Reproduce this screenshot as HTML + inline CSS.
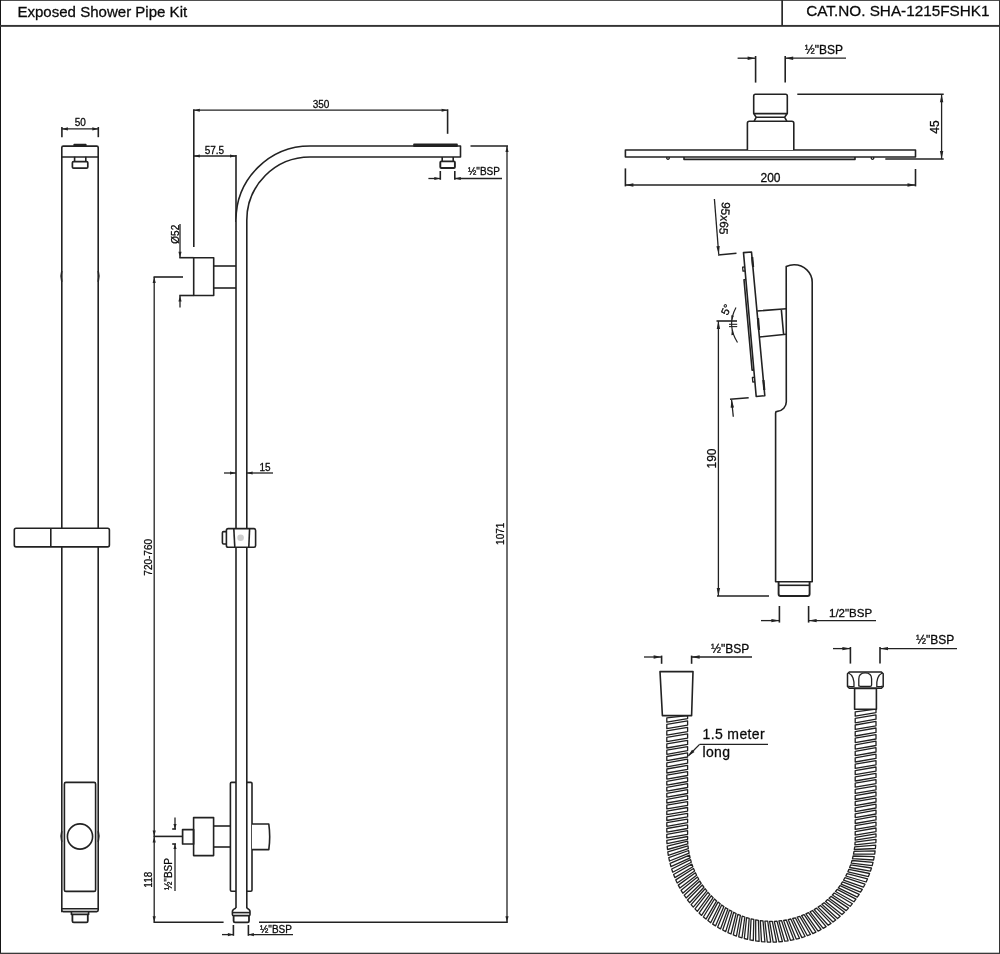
<!DOCTYPE html>
<html><head><meta charset="utf-8"><title>Exposed Shower Pipe Kit</title>
<style>
html,body{margin:0;padding:0;background:#fff}
body{width:1000px;height:954px;position:relative;overflow:hidden;font-family:"Liberation Sans",sans-serif}
.frame{position:absolute;left:0;top:0;width:1000px;height:954px}
.hdr{position:absolute;top:0;height:25px;line-height:25px;font-size:15px;color:#111;white-space:nowrap}
svg{position:absolute;left:0;top:0;filter:grayscale(1)}
svg text{font-family:"Liberation Sans",sans-serif;fill:#0a0a0a;stroke:#0a0a0a;stroke-width:0.28px}
</style></head><body>
<svg width="1000" height="954" viewBox="0 0 1000 954">
<g stroke="none">
<rect x="0" y="0" width="1" height="954" fill="#151515"/>
<rect x="0" y="0" width="1000" height="0.75" fill="#151515"/>
<rect x="999" y="0" width="1" height="954" fill="#333"/>
<rect x="0" y="952.7" width="1000" height="1.3" fill="#3a3a3a"/>
<rect x="0" y="24.95" width="1000" height="1.9" fill="#333"/>
<rect x="781.3" y="0" width="1.7" height="26" fill="#2a2a2a"/>
</g>
<text x="17.4" y="16.9" font-size="15.05">Exposed Shower Pipe Kit</text>
<text x="806.2" y="15.9" font-size="15.3">CAT.NO. SHA-1215FSHK1</text>
<g fill="none" stroke="#222" stroke-width="1.6" stroke-linecap="butt" stroke-linejoin="round">
<path d="M61.8,911.6 V147.6 Q61.8,146.1 63.3,146.1 H96.7 Q98.2,146.1 98.2,147.6 V910.1 Q98.2,911.6 96.7,911.6 H63.3 Q61.8,911.6 61.8,910.1 Z" fill="#fff"/>
<line x1="61.80" y1="157.00" x2="98.20" y2="157.00"/>
<rect x="74.20" y="144.50" width="11.60" height="1.70" fill="#222"/>
<path d="M74.6,156.8 V161.6 M85.8,156.8 V161.6"/>
<rect x="72.40" y="161.60" width="15.40" height="6.60" rx="1.2" stroke-width="1.7"/>
<path d="M61.8,270.9 Q60.2,276.4 61.8,281.9 M98.2,270.9 Q99.8,276.4 98.2,281.9" stroke-width="1.5"/>
<path d="M61.8,831.0 Q60.2,836.5 61.8,842.0 M98.2,831.0 Q99.8,836.5 98.2,842.0" stroke-width="1.5"/>
<line x1="61.90" y1="127.00" x2="61.90" y2="137.20"/>
<line x1="98.30" y1="127.00" x2="98.30" y2="137.20"/>
<line x1="61.90" y1="128.90" x2="98.30" y2="128.90" stroke-width="1.3"/>
<polygon points="61.90,128.90 67.90,127.35 67.90,130.45" fill="#222" stroke="none"/>
<polygon points="98.30,128.90 92.30,130.45 92.30,127.35" fill="#222" stroke="none"/>
<text x="80.20" y="125.60" font-size="10" text-anchor="middle">50</text>
<rect x="14.30" y="528.30" width="95.10" height="18.60" rx="1.8" fill="#fff"/>
<line x1="50.80" y1="528.30" x2="50.80" y2="546.90"/>
<rect x="64.40" y="782.40" width="31.20" height="109.00" rx="1.5"/>
<circle cx="80" cy="836.5" r="12.6"/>
<line x1="61.80" y1="908.80" x2="98.20" y2="908.80"/>
<path d="M71.4,911.6 V914.4 H72.4 M88.6,911.6 V914.4 H87.6"/>
<path d="M72.4,914.4 V921 Q72.4,922.4 73.8,922.4 H86.4 Q87.8,922.4 87.8,921 V914.4 Z" stroke-width="1.8"/>
<line x1="193.80" y1="109.30" x2="193.80" y2="247.00"/>
<line x1="447.60" y1="109.30" x2="447.60" y2="133.80"/>
<line x1="193.80" y1="110.20" x2="447.60" y2="110.20" stroke-width="1.3"/>
<polygon points="193.80,110.20 199.80,108.65 199.80,111.75" fill="#222" stroke="none"/>
<polygon points="447.60,110.20 441.60,111.75 441.60,108.65" fill="#222" stroke="none"/>
<text x="321.00" y="107.50" font-size="10" text-anchor="middle">350</text>
<line x1="193.80" y1="156.00" x2="236.00" y2="156.00" stroke-width="1.3"/>
<polygon points="193.80,156.00 199.80,154.45 199.80,157.55" fill="#222" stroke="none"/>
<polygon points="236.00,156.00 230.00,157.55 230.00,154.45" fill="#222" stroke="none"/>
<line x1="236.00" y1="155.00" x2="236.00" y2="222.00"/>
<text x="214.40" y="153.50" font-size="10" text-anchor="middle">57.5</text>
<rect x="230.40" y="782.40" width="21.60" height="108.80" rx="1.2"/>
<path d="M236,908 V220 A74,74 0 0 1 310,146 H460.5 V157 H310 A63.2,63.2 0 0 0 246.8,220.2 V908" fill="#fff"/>
<rect x="414.00" y="144.20" width="43.00" height="2.10" fill="#222"/>
<path d="M442.2,157 V161.4 M453.2,157 V161.4"/>
<rect x="440.30" y="161.40" width="14.60" height="6.60" rx="1" stroke-width="1.9"/>
<line x1="440.30" y1="171.00" x2="440.30" y2="179.80"/>
<line x1="454.80" y1="171.00" x2="454.80" y2="179.80"/>
<line x1="428.40" y1="178.50" x2="440.30" y2="178.50" stroke-width="1.3"/>
<polygon points="440.30,178.50 434.30,180.05 434.30,176.95" fill="#222" stroke="none"/>
<line x1="454.80" y1="178.50" x2="502.00" y2="178.50" stroke-width="1.3"/>
<polygon points="454.80,178.50 460.80,176.95 460.80,180.05" fill="#222" stroke="none"/>
<text x="468.00" y="175.00" font-size="10" text-anchor="start">½"BSP</text>
<line x1="470.50" y1="146.00" x2="508.00" y2="146.00"/>
<line x1="259.00" y1="922.30" x2="507.80" y2="922.30"/>
<line x1="507.00" y1="146.00" x2="507.00" y2="922.30" stroke-width="1.3"/>
<polygon points="507.00,146.00 508.55,152.00 505.45,152.00" fill="#222" stroke="none"/>
<polygon points="507.00,922.30 505.45,916.30 508.55,916.30" fill="#222" stroke="none"/>
<text x="504.30" y="533.80" font-size="10" text-anchor="middle" transform="rotate(-90 504.30 533.80)">1071</text>
<rect x="193.70" y="257.70" width="20.00" height="37.80" fill="#fff"/>
<line x1="213.70" y1="266.00" x2="236.00" y2="266.00"/>
<line x1="213.70" y1="288.00" x2="236.00" y2="288.00"/>
<line x1="180.00" y1="224.00" x2="180.00" y2="257.70" stroke-width="1.3"/>
<polygon points="180.00,257.70 178.45,251.70 181.55,251.70" fill="#222" stroke="none"/>
<line x1="179.30" y1="257.70" x2="193.70" y2="257.70"/>
<line x1="179.30" y1="295.50" x2="193.70" y2="295.50"/>
<line x1="180.00" y1="295.50" x2="180.00" y2="307.60" stroke-width="1.3"/>
<polygon points="180.00,295.50 181.55,301.50 178.45,301.50" fill="#222" stroke="none"/>
<text x="178.80" y="234.20" font-size="10" text-anchor="middle" transform="rotate(-90 178.80 234.20)">Ø52</text>
<line x1="153.50" y1="277.00" x2="183.00" y2="277.00"/>
<line x1="154.20" y1="277.00" x2="154.20" y2="922.30" stroke-width="1.3"/>
<polygon points="154.20,277.00 155.75,283.00 152.65,283.00" fill="#222" stroke="none"/>
<polygon points="154.20,836.40 152.65,830.40 155.75,830.40" fill="#222" stroke="none"/>
<polygon points="154.20,836.40 155.75,842.40 152.65,842.40" fill="#222" stroke="none"/>
<polygon points="154.20,922.30 152.65,916.30 155.75,916.30" fill="#222" stroke="none"/>
<text x="151.80" y="557.30" font-size="10" text-anchor="middle" transform="rotate(-90 151.80 557.30)">720-760</text>
<line x1="153.50" y1="836.40" x2="182.60" y2="836.40"/>
<line x1="153.50" y1="922.30" x2="223.60" y2="922.30"/>
<text x="151.80" y="879.70" font-size="10" text-anchor="middle" transform="rotate(-90 151.80 879.70)">118</text>
<line x1="224.00" y1="473.00" x2="236.00" y2="473.00" stroke-width="1.3"/>
<polygon points="236.00,473.00 230.00,474.55 230.00,471.45" fill="#222" stroke="none"/>
<line x1="247.00" y1="473.00" x2="273.00" y2="473.00" stroke-width="1.3"/>
<polygon points="246.60,473.00 252.60,471.45 252.60,474.55" fill="#222" stroke="none"/>
<text x="265.00" y="470.50" font-size="10" text-anchor="middle">15</text>
<rect x="222.40" y="531.60" width="4.60" height="12.40" rx="1.2" fill="#fff"/>
<rect x="226.40" y="528.60" width="29.20" height="18.60" rx="1.8" fill="#fff"/>
<line x1="233.80" y1="528.60" x2="234.80" y2="547.20"/>
<line x1="249.60" y1="528.60" x2="248.80" y2="547.20"/>
<circle cx="240.6" cy="537.8" r="3.3" fill="#cfcfcf" stroke="none"/>
<path d="M252,824 H268.8 Q270.6,836.8 268.8,849.6 H252" fill="#fff"/>
<line x1="213.60" y1="826.00" x2="230.40" y2="826.00"/>
<line x1="213.60" y1="847.00" x2="230.40" y2="847.00"/>
<rect x="193.60" y="817.60" width="20.00" height="38.00" fill="#fff"/>
<rect x="182.60" y="829.60" width="11.00" height="14.40" stroke-width="1.7"/>
<line x1="175.00" y1="817.60" x2="175.00" y2="829.00" stroke-width="1.3"/>
<polygon points="175.00,829.00 173.45,824.00 176.55,824.00" fill="#222" stroke="none"/>
<line x1="172.20" y1="829.00" x2="176.00" y2="829.00"/>
<line x1="175.00" y1="844.00" x2="175.00" y2="891.00" stroke-width="1.3"/>
<polygon points="175.00,844.00 176.55,849.00 173.45,849.00" fill="#222" stroke="none"/>
<line x1="172.20" y1="844.00" x2="176.00" y2="844.00"/>
<text x="172.20" y="890.00" font-size="10" text-anchor="start" transform="rotate(-90 172.20 890.00)">½"BSP</text>
<path d="M236,908 Q232.4,909.5 232.4,911.5 V914.4 Q232.4,915.6 233.6,915.6 H248.8 Q250,915.6 250,914.4 V911.5 Q250,909.5 246.6,908"/>
<line x1="232.40" y1="912.60" x2="250.00" y2="912.60"/>
<path d="M233.6,915.6 V921 Q233.6,922.3 235,922.3 H247.6 Q249,922.3 249,921 V915.6" stroke-width="1.8"/>
<line x1="233.40" y1="925.00" x2="233.40" y2="935.80"/>
<line x1="248.40" y1="925.00" x2="248.40" y2="935.80"/>
<line x1="222.00" y1="934.60" x2="233.40" y2="934.60" stroke-width="1.3"/>
<polygon points="233.40,934.60 227.90,936.15 227.90,933.05" fill="#222" stroke="none"/>
<line x1="248.40" y1="934.60" x2="293.00" y2="934.60" stroke-width="1.3"/>
<polygon points="248.40,934.60 253.90,933.05 253.90,936.15" fill="#222" stroke="none"/>
<text x="260.00" y="932.80" font-size="10" text-anchor="start">½"BSP</text>
<rect x="625.40" y="150.00" width="290.10" height="7.00"/>
<path d="M684,157 V159.4 H855 V157"/>
<path d="M666.8,157 V158.6 Q668,160 669.2,158.6 V157 M871.3,157 V158.6 Q872.5,160 873.7,158.6 V157" stroke-width="1.3"/>
<path d="M747.4,150 V123.2 Q747.4,121.2 749.4,121.2 H791.8 Q793.8,121.2 793.8,123.2 V150" fill="#fff"/>
<path d="M753.7,113.6 V96 Q753.7,94.3 755.4,94.3 H785.6 Q787.3,94.3 787.3,96 V113.6 Z M753.7,113.6 L756.2,117.2 H784.6 L787.3,113.6 M756.2,117.2 L754.2,121.2 M784.6,117.2 L786.8,121.2"/>
<line x1="755.60" y1="56.00" x2="755.60" y2="82.60"/>
<line x1="785.20" y1="56.00" x2="785.20" y2="82.60"/>
<line x1="737.60" y1="58.20" x2="755.60" y2="58.20" stroke-width="1.3"/>
<polygon points="755.60,58.20 747.60,59.90 747.60,56.50" fill="#222" stroke="none"/>
<line x1="785.20" y1="58.20" x2="846.00" y2="58.20" stroke-width="1.3"/>
<polygon points="785.20,58.20 793.20,56.50 793.20,59.90" fill="#222" stroke="none"/>
<text x="804.80" y="53.60" font-size="12" text-anchor="start">½"BSP</text>
<line x1="797.30" y1="94.30" x2="943.70" y2="94.30"/>
<line x1="885.30" y1="159.00" x2="943.70" y2="159.00"/>
<line x1="941.60" y1="94.30" x2="941.60" y2="159.00" stroke-width="1.3"/>
<polygon points="941.60,94.30 943.30,102.30 939.90,102.30" fill="#222" stroke="none"/>
<polygon points="941.60,159.00 939.90,151.00 943.30,151.00" fill="#222" stroke="none"/>
<text x="938.80" y="127.00" font-size="12" text-anchor="middle" transform="rotate(-90 938.80 127.00)">45</text>
<line x1="625.40" y1="168.40" x2="625.40" y2="186.40"/>
<line x1="915.50" y1="169.00" x2="915.50" y2="186.40"/>
<line x1="625.40" y1="185.00" x2="915.50" y2="185.00" stroke-width="1.3"/>
<polygon points="625.40,185.00 633.40,183.30 633.40,186.70" fill="#222" stroke="none"/>
<polygon points="915.50,185.00 907.50,186.70 907.50,183.30" fill="#222" stroke="none"/>
<text x="770.50" y="181.60" font-size="12" text-anchor="middle">200</text>
<line x1="714.40" y1="199.00" x2="718.70" y2="254.00" stroke-width="1.3"/>
<polygon points="718.70,254.00 716.38,246.16 719.77,245.89" fill="#222" stroke="none"/>
<line x1="718.00" y1="255.00" x2="736.50" y2="253.20"/>
<text x="720.60" y="218.00" font-size="12" text-anchor="middle" transform="rotate(95 720.60 218.00)">95x65</text>
<line x1="730.00" y1="399.20" x2="748.70" y2="397.70"/>
<line x1="733.30" y1="416.70" x2="731.60" y2="400.00" stroke-width="1.3"/>
<polygon points="731.50,399.60 734.03,407.38 730.65,407.73" fill="#222" stroke="none"/>
<path d="M743.5,252.6 L751.5,252 L764.8,395.7 L756.2,396.5 Z" fill="#fff"/>
<path d="M745.9,279.5 L744,279.7 L752.1,370.2 L753.9,370"/>
<path d="M744.6,267 L742.6,267.2 L743,271.2 L745,271 M754.6,377.3 L752.4,377.5 L752.8,382 L755,381.8" stroke-width="1.3"/>
<path d="M752.2,257 L753.1,267 M758,318 L759,330 M763.4,380 L764.3,390" stroke-width="2.2"/>
<path d="M757.2,311 L786.2,308.7 M759.6,337 L786.2,334.3 M781.3,309.1 L783.6,334.5"/>
<path d="M786.2,266.4 Q790,264.8 794,264.8 A18,17.4 0 0 1 812.2,282.2 V581.8 H775.6 V413 Q775.6,411.4 777.2,411.4 A9.6,9.6 0 0 0 786.3,401.5 Z" fill="#fff"/>
<path d="M778.6,581.8 V594 Q778.6,596 780.6,596 H807.6 Q809.6,596 809.6,594 V581.8" stroke-width="1.9"/>
<line x1="778.60" y1="585.30" x2="809.60" y2="585.30"/>
<line x1="716.50" y1="321.00" x2="737.00" y2="321.00"/>
<line x1="717.00" y1="596.00" x2="769.00" y2="596.00"/>
<line x1="718.40" y1="321.00" x2="718.40" y2="596.00" stroke-width="1.3"/>
<polygon points="718.40,321.00 720.10,329.00 716.70,329.00" fill="#222" stroke="none"/>
<polygon points="718.40,596.00 716.70,588.00 720.10,588.00" fill="#222" stroke="none"/>
<text x="715.80" y="458.50" font-size="12" text-anchor="middle" transform="rotate(-90 715.80 458.50)">190</text>
<line x1="729.00" y1="324.30" x2="737.20" y2="324.30" stroke-width="1.1"/>
<line x1="729.00" y1="326.60" x2="737.20" y2="326.60" stroke-width="1.1"/>
<path d="M736,307.5 Q726.5,325 737.5,342.5" stroke-width="1.2" fill="none"/>
<polygon points="731.60,321.00 731.27,315.36 733.84,315.81" fill="#222" stroke="none"/>
<polygon points="731.90,329.50 733.95,334.77 731.38,335.13" fill="#222" stroke="none"/>
<text x="727.50" y="316.00" font-size="11" text-anchor="start" transform="rotate(-65 727.50 316.00)">5°</text>
<line x1="779.40" y1="606.00" x2="779.40" y2="622.60"/>
<line x1="808.60" y1="606.00" x2="808.60" y2="622.60"/>
<line x1="761.00" y1="620.60" x2="779.40" y2="620.60" stroke-width="1.3"/>
<polygon points="779.40,620.60 771.40,622.30 771.40,618.90" fill="#222" stroke="none"/>
<line x1="808.60" y1="620.60" x2="876.00" y2="620.60" stroke-width="1.3"/>
<polygon points="808.60,620.60 816.60,618.90 816.60,622.30" fill="#222" stroke="none"/>
<text x="829.00" y="617.40" font-size="11.5" text-anchor="start">1/2"BSP</text>
<line x1="661.60" y1="655.60" x2="661.60" y2="663.80"/>
<line x1="691.60" y1="655.60" x2="691.60" y2="663.80"/>
<line x1="644.00" y1="657.00" x2="661.60" y2="657.00" stroke-width="1.3"/>
<polygon points="661.60,657.00 653.60,658.70 653.60,655.30" fill="#222" stroke="none"/>
<line x1="691.60" y1="657.00" x2="752.00" y2="657.00" stroke-width="1.3"/>
<polygon points="691.60,657.00 699.60,655.30 699.60,658.70" fill="#222" stroke="none"/>
<text x="711.00" y="652.60" font-size="12" text-anchor="start">½"BSP</text>
<line x1="850.40" y1="647.00" x2="850.40" y2="663.60"/>
<line x1="880.00" y1="647.00" x2="880.00" y2="663.60"/>
<line x1="833.00" y1="648.60" x2="850.40" y2="648.60" stroke-width="1.3"/>
<polygon points="850.40,648.60 842.40,650.30 842.40,646.90" fill="#222" stroke="none"/>
<line x1="880.00" y1="648.60" x2="957.00" y2="648.60" stroke-width="1.3"/>
<polygon points="880.00,648.60 888.00,646.90 888.00,650.30" fill="#222" stroke="none"/>
<text x="916.00" y="644.00" font-size="12" text-anchor="start">½"BSP</text>
<path d="M666.8,717.8L666.8,722.2L687.6,718.6L687.6,715.6ZM666.8,724.4L666.8,728.7L687.6,725.1L687.6,720.8ZM666.8,730.9L666.8,735.2L687.6,731.6L687.6,727.3ZM666.8,737.4L666.8,741.7L687.6,738.1L687.6,733.8ZM666.8,743.9L666.8,748.0L687.6,744.4L687.6,740.3ZM666.8,750.2L666.8,754.3L687.6,750.7L687.6,746.6ZM666.8,756.5L666.8,760.6L687.6,757.0L687.6,752.9ZM666.8,762.8L666.8,766.8L687.6,763.2L687.6,759.2ZM666.8,769.0L666.8,773.0L687.6,769.4L687.6,765.4ZM666.8,775.2L666.8,779.1L687.6,775.5L687.6,771.6ZM666.8,781.3L666.8,785.1L687.6,781.5L687.6,777.7ZM666.8,787.3L666.8,791.1L687.6,787.5L687.6,783.7ZM666.8,793.3L666.8,797.1L687.6,793.5L687.6,789.7ZM666.8,799.3L666.8,803.0L687.6,799.4L687.6,795.7ZM666.8,805.2L666.8,808.9L687.6,805.3L687.6,801.6ZM666.8,811.1L666.8,814.7L687.6,811.1L687.6,807.5ZM666.8,816.9L666.8,820.5L687.6,816.9L687.6,813.3ZM666.8,822.7L666.8,826.3L687.6,822.7L687.6,819.1ZM666.8,828.5L666.8,832.1L687.6,828.5L687.6,824.9ZM666.8,834.3L666.8,837.9L687.6,834.3L687.6,830.7ZM666.8,840.3L667.0,843.7L687.6,839.3L687.6,836.5ZM667.2,846.2L667.5,849.5L687.8,843.9L687.7,841.2ZM667.8,851.9L668.3,855.3L688.3,848.6L688.0,845.9ZM668.8,857.7L669.5,861.0L689.1,853.2L688.6,850.5ZM670.1,863.4L670.9,866.6L690.1,857.8L689.5,855.1ZM671.7,869.0L672.7,872.2L691.3,862.3L690.6,859.7ZM673.6,874.5L674.8,877.6L692.8,866.7L691.9,864.1ZM675.8,879.9L677.2,883.0L694.6,871.0L693.5,868.5ZM678.3,885.1L679.9,888.1L696.6,875.2L695.4,872.8ZM681.1,890.3L682.8,893.2L698.8,879.3L697.5,877.0ZM684.2,895.2L686.1,898.0L701.2,883.3L699.8,881.0ZM687.5,900.0L689.6,902.7L703.9,887.2L702.3,885.0ZM691.1,904.6L693.3,907.1L706.8,890.8L705.1,888.7ZM695.0,908.9L697.3,911.4L709.8,894.4L708.0,892.3ZM699.1,913.1L701.6,915.4L713.1,897.7L711.2,895.8ZM703.4,917.0L706.0,919.1L716.6,900.9L714.5,899.0ZM707.9,920.6L710.7,922.7L720.2,903.8L718.0,902.1ZM712.7,924.1L715.5,925.9L723.9,906.6L721.7,905.0ZM717.6,927.2L720.5,928.9L727.9,909.1L725.6,907.7ZM722.7,930.0L725.7,931.6L731.9,911.4L729.5,910.1ZM727.9,932.6L731.0,934.0L736.1,913.5L733.7,912.3ZM733.3,934.9L736.4,936.1L740.4,915.3L737.9,914.3ZM738.7,936.9L742.0,937.9L744.8,917.0L742.2,916.1ZM744.3,938.5L747.6,939.4L749.2,918.3L746.6,917.6ZM750.0,939.9L753.3,940.5L753.8,919.4L751.1,918.8ZM755.7,940.9L759.1,941.4L758.4,920.3L755.7,919.8ZM761.5,941.6L764.9,941.9L763.0,920.9L760.3,920.6ZM767.3,942.0L770.7,942.1L767.7,921.2L764.9,921.1ZM773.2,942.1L776.5,942.0L772.3,921.3L769.6,921.3ZM779.0,941.8L782.4,941.5L777.0,921.1L774.3,921.3ZM784.8,941.2L788.1,940.8L781.6,920.7L778.9,921.0ZM790.5,940.3L793.9,939.7L786.3,920.0L783.6,920.4ZM796.2,939.1L799.5,938.3L790.8,919.0L788.2,919.6ZM801.9,937.6L805.1,936.5L795.3,917.8L792.7,918.5ZM807.4,935.7L810.5,934.5L799.8,916.4L797.2,917.2ZM812.8,933.6L815.9,932.2L804.1,914.6L801.6,915.7ZM818.1,931.1L821.1,929.5L808.4,912.7L805.9,913.9ZM823.2,928.4L826.1,926.6L812.5,910.5L810.1,911.8ZM828.2,925.3L831.0,923.4L816.5,908.1L814.2,909.6ZM833.0,922.0L835.7,920.0L820.4,905.5L818.1,907.1ZM837.6,918.5L840.2,916.3L824.1,902.7L821.9,904.3ZM842.0,914.6L844.5,912.3L827.6,899.6L825.6,901.4ZM846.2,910.6L848.5,908.1L831.0,896.4L829.1,898.3ZM850.2,906.3L852.4,903.7L834.2,893.0L832.4,895.0ZM853.9,901.8L855.9,899.1L837.2,889.4L835.5,891.5ZM857.3,897.1L859.2,894.3L840.0,885.7L838.4,887.9ZM860.5,892.2L862.3,889.3L842.5,881.8L841.1,884.1ZM863.4,887.2L865.0,884.2L844.9,877.7L843.6,880.1ZM866.1,882.0L867.5,878.9L847.0,873.6L845.8,876.0ZM868.4,876.6L869.6,873.5L848.9,869.3L847.9,871.8ZM870.4,871.2L871.5,868.0L850.6,864.9L849.6,867.5ZM872.2,865.6L873.0,862.3L852.0,860.5L851.2,863.1ZM873.6,860.0L874.2,856.6L853.1,856.0L852.5,858.6ZM874.7,854.2L875.1,850.9L854.0,851.4L853.5,854.1ZM875.4,848.5L875.7,845.1L854.7,846.8L854.3,849.5ZM875.9,842.6L876.0,839.3L855.1,842.1L854.9,844.8ZM876.0,836.9L876.0,833.8L855.2,837.4L855.2,840.2ZM876.0,831.6L876.0,828.0L855.2,831.6L855.2,835.2ZM876.0,825.8L876.0,822.1L855.2,825.7L855.2,829.4ZM876.0,819.9L876.0,816.2L855.2,819.8L855.2,823.5ZM876.0,814.0L876.0,810.2L855.2,813.8L855.2,817.6ZM876.0,808.0L876.0,804.2L855.2,807.8L855.2,811.6ZM876.0,802.0L876.0,798.1L855.2,801.7L855.2,805.6ZM876.0,795.9L876.0,792.0L855.2,795.6L855.2,799.5ZM876.0,789.8L876.0,785.8L855.2,789.4L855.2,793.4ZM876.0,783.6L876.0,779.6L855.2,783.2L855.2,787.2ZM876.0,777.4L876.0,773.3L855.2,776.9L855.2,781.0ZM876.0,771.1L876.0,767.0L855.2,770.6L855.2,774.7ZM876.0,764.8L876.0,760.6L855.2,764.2L855.2,768.4ZM876.0,758.4L876.0,754.2L855.2,757.8L855.2,762.0ZM876.0,752.0L876.0,747.7L855.2,751.3L855.2,755.6ZM876.0,745.5L876.0,741.2L855.2,744.8L855.2,749.1ZM876.0,739.0L876.0,734.6L855.2,738.2L855.2,742.6ZM876.0,732.4L876.0,728.0L855.2,731.6L855.2,736.0ZM876.0,725.8L876.0,721.4L855.2,725.0L855.2,729.4ZM876.0,719.2L876.0,714.8L855.2,718.4L855.2,722.8ZM876.0,712.6L876.0,709.2L855.2,711.8L855.2,716.2Z" stroke-width="1.3" fill="#fff"/>
<path d="M660,671.6 H693 L691.6,715.6 H662.4 Z" fill="#fff"/>
<path d="M849.3,672 H881.4 L883.2,673.8 V686.4 L881.4,688.2 H849.3 L847.5,686.4 V673.8 Z" stroke-width="1.5" fill="#fff"/>
<path d="M858.8,686.4 V679 Q858.8,672.8 865.2,672.8 Q871.6,672.8 871.6,679 V685 Q871.6,686.4 870.2,686.4 H860.2 Q858.8,686.4 858.8,685" stroke-width="1.3" fill="none"/>
<path d="M848.6,673 Q854.6,676 854,686.6 Q851,687 848.2,686.2 M882.2,673 Q876.2,676 876.8,686.6 Q879.8,687 882.6,686.2" stroke-width="1.3" fill="none"/>
<rect x="854.60" y="688.40" width="21.80" height="20.80" fill="#fff"/>
<line x1="699.60" y1="744.40" x2="768.00" y2="744.40" stroke-width="1.3"/>
<line x1="699.60" y1="744.40" x2="688.40" y2="755.80" stroke-width="1.3"/>
<polygon points="688.00,756.20 692.04,749.66 694.47,752.04" fill="#222" stroke="none"/>
<text x="702.60" y="738.60" font-size="14" text-anchor="start" textLength="62" lengthAdjust="spacing">1.5 meter</text>
<text x="702.40" y="756.80" font-size="14" text-anchor="start" textLength="27.6" lengthAdjust="spacing">long</text>
</g>
</svg>
</body></html>
